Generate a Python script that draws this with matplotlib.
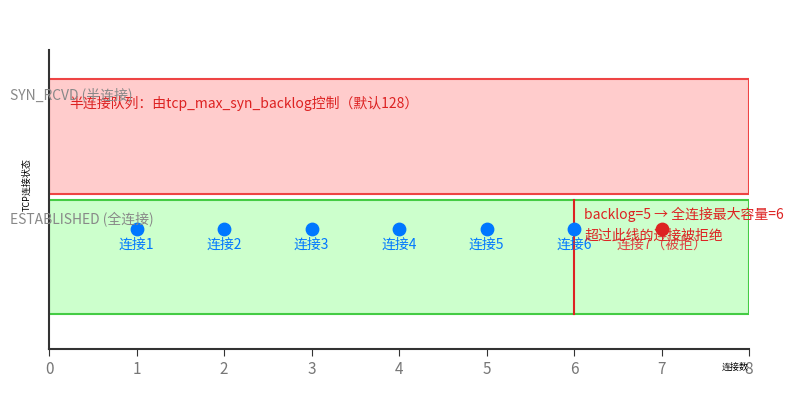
import matplotlib.pyplot as plt
from matplotlib.patches import Rectangle

plt.rcParams['font.family'] = ['Noto Sans CJK SC', 'DejaVu Sans']

conn_x = [1, 2, 3, 4, 5, 6]
conn_labels = ["连接1", "连接2", "连接3", "连接4", "连接5", "连接6"]
rejected_x = 7
rejected_label = "连接7（被拒）"
backlog_line = 6
row_y = 1.2
x_ticks = [0, 1, 2, 3, 4, 5, 6, 7, 8]

fig = plt.figure(figsize=(8, 4), dpi=100)
ax = fig.add_axes([49 / 800, 51 / 400, 700 / 800, 299 / 400])
ax.set_xlim(0, 8)
ax.set_ylim(0, 3)

# 队列区域
ax.add_patch(Rectangle((0, 1.56), 8, 1.15, facecolor="#ffcccc", edgecolor="#ee4444", lw=1.5))
ax.add_patch(Rectangle((0, 0.35), 8, 1.15, facecolor="#ccffcc", edgecolor="#44cc44", lw=1.5))

ax.scatter(conn_x, [row_y] * len(conn_x), s=80, color="#0077ff", zorder=5)
for x, lab in zip(conn_x, conn_labels):
    ax.text(x, row_y - 0.08, lab, color="#0077ff", ha="center", va="top", fontsize=10)
ax.scatter([rejected_x], [row_y], s=80, color="#dd2222", zorder=5)
ax.text(rejected_x, row_y - 0.08, rejected_label, color="#dd4444", ha="center", va="top", fontsize=10)

ax.plot([backlog_line, backlog_line], [0.35, 1.5], color="#dd2222", lw=1.5)
ax.text(6.12, 1.35, "backlog=5 → 全连接最大容量=6", color="#dd2222", fontsize=10, va="center")
ax.text(6.12, 1.14, "超过此线的连接被拒绝", color="#dd2222", fontsize=10, va="center")
ax.text(0.23, 2.46, "半连接队列：由tcp_max_syn_backlog控制（默认128）", color="#dd2222", fontsize=10, va="center")

fig.text(10 / 800, 1 - 95 / 400, "SYN_RCVD (半连接)", color="#888888", fontsize=10, va="center")
fig.text(10 / 800, 1 - 220 / 400, "ESTABLISHED (全连接)", color="#888888", fontsize=10, va="center")
fig.text(27 / 800, 1 - 185 / 400, "TCP连接状态", rotation=90, fontsize=6.5, ha="center", va="center")
fig.text(735 / 800, 1 - 367 / 400, "连接数", fontsize=6.5, ha="center", va="center")

ax.set_xticks(x_ticks)
ax.tick_params(axis="x", colors="#333333", labelcolor="#777777", labelsize=11, length=5)
ax.set_yticks([])
for s in ["top", "right"]:
    ax.spines[s].set_visible(False)
for s in ["left", "bottom"]:
    ax.spines[s].set_color("#333333")
    ax.spines[s].set_linewidth(1.5)

fig.savefig("out.png", dpi=100)
